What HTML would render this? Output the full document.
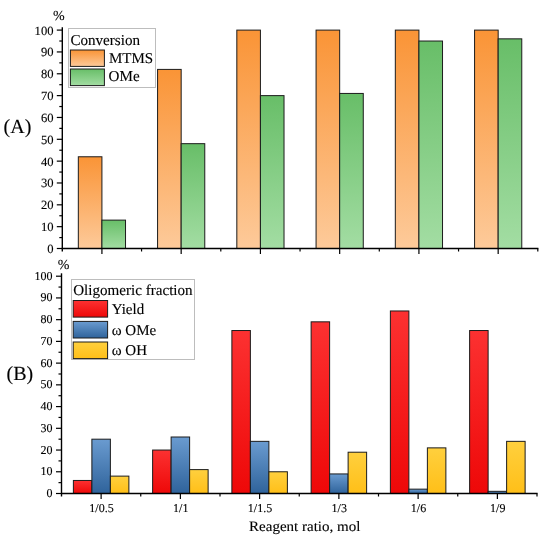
<!DOCTYPE html>
<html><head><meta charset="utf-8"><title>Chart</title>
<style>
html,body{margin:0;padding:0;background:#fff;}
body{width:550px;height:541px;overflow:hidden;}
svg{display:block;font-family:"Liberation Serif","Times New Roman",serif;fill:#000;}
text{stroke:#000;stroke-width:0.12px;text-rendering:geometricPrecision;}
</style></head><body>
<svg width="550" height="541" viewBox="0 0 550 541">
<defs>
<linearGradient id="gO" x1="0" y1="0" x2="0" y2="1"><stop offset="0" stop-color="#FA9436"/><stop offset="1" stop-color="#FDCA9A"/></linearGradient>
<linearGradient id="gG" x1="0" y1="0" x2="0" y2="1"><stop offset="0" stop-color="#68BE68"/><stop offset="1" stop-color="#A3DDA3"/></linearGradient>
<linearGradient id="gR" x1="0" y1="0" x2="0" y2="1"><stop offset="0" stop-color="#FC3131"/><stop offset="1" stop-color="#EE0808"/></linearGradient>
<linearGradient id="gB" x1="0" y1="0" x2="0" y2="1"><stop offset="0" stop-color="#6A9BD0"/><stop offset="1" stop-color="#2F639B"/></linearGradient>
<linearGradient id="gY" x1="0" y1="0" x2="0" y2="1"><stop offset="0" stop-color="#FFD03E"/><stop offset="1" stop-color="#FFBF18"/></linearGradient>
</defs>
<rect width="550" height="541" fill="#fff"/>
<g id="top">
<rect x="78.32" y="156.77" width="23.60" height="91.73" fill="url(#gO)" stroke="#1c1c1c" stroke-width="1"/>
<rect x="101.92" y="220.11" width="23.60" height="28.39" fill="url(#gG)" stroke="#1c1c1c" stroke-width="1"/>
<rect x="157.57" y="69.41" width="23.60" height="179.09" fill="url(#gO)" stroke="#1c1c1c" stroke-width="1"/>
<rect x="181.17" y="143.67" width="23.60" height="104.83" fill="url(#gG)" stroke="#1c1c1c" stroke-width="1"/>
<rect x="236.82" y="30.10" width="23.60" height="218.40" fill="url(#gO)" stroke="#1c1c1c" stroke-width="1"/>
<rect x="260.42" y="95.62" width="23.60" height="152.88" fill="url(#gG)" stroke="#1c1c1c" stroke-width="1"/>
<rect x="316.07" y="30.10" width="23.60" height="218.40" fill="url(#gO)" stroke="#1c1c1c" stroke-width="1"/>
<rect x="339.67" y="93.44" width="23.60" height="155.06" fill="url(#gG)" stroke="#1c1c1c" stroke-width="1"/>
<rect x="395.32" y="30.10" width="23.60" height="218.40" fill="url(#gO)" stroke="#1c1c1c" stroke-width="1"/>
<rect x="418.92" y="41.02" width="23.60" height="207.48" fill="url(#gG)" stroke="#1c1c1c" stroke-width="1"/>
<rect x="474.57" y="30.10" width="23.60" height="218.40" fill="url(#gO)" stroke="#1c1c1c" stroke-width="1"/>
<rect x="498.17" y="38.84" width="23.60" height="209.66" fill="url(#gG)" stroke="#1c1c1c" stroke-width="1"/>
<line x1="62.30" y1="27.20" x2="62.30" y2="251.50" stroke="#000" stroke-width="1.4"/>
<line x1="61.70" y1="248.50" x2="538.40" y2="248.50" stroke="#000" stroke-width="1.4"/>
<line x1="56.80" y1="248.50" x2="62.30" y2="248.50" stroke="#000" stroke-width="1.2"/>
<text x="53.50" y="252.90" text-anchor="end" font-size="12.6">0</text>
<line x1="59.30" y1="237.58" x2="62.30" y2="237.58" stroke="#000" stroke-width="1.2"/>
<line x1="56.80" y1="226.66" x2="62.30" y2="226.66" stroke="#000" stroke-width="1.2"/>
<text x="53.50" y="231.06" text-anchor="end" font-size="12.6">10</text>
<line x1="59.30" y1="215.74" x2="62.30" y2="215.74" stroke="#000" stroke-width="1.2"/>
<line x1="56.80" y1="204.82" x2="62.30" y2="204.82" stroke="#000" stroke-width="1.2"/>
<text x="53.50" y="209.22" text-anchor="end" font-size="12.6">20</text>
<line x1="59.30" y1="193.90" x2="62.30" y2="193.90" stroke="#000" stroke-width="1.2"/>
<line x1="56.80" y1="182.98" x2="62.30" y2="182.98" stroke="#000" stroke-width="1.2"/>
<text x="53.50" y="187.38" text-anchor="end" font-size="12.6">30</text>
<line x1="59.30" y1="172.06" x2="62.30" y2="172.06" stroke="#000" stroke-width="1.2"/>
<line x1="56.80" y1="161.14" x2="62.30" y2="161.14" stroke="#000" stroke-width="1.2"/>
<text x="53.50" y="165.54" text-anchor="end" font-size="12.6">40</text>
<line x1="59.30" y1="150.22" x2="62.30" y2="150.22" stroke="#000" stroke-width="1.2"/>
<line x1="56.80" y1="139.30" x2="62.30" y2="139.30" stroke="#000" stroke-width="1.2"/>
<text x="53.50" y="143.70" text-anchor="end" font-size="12.6">50</text>
<line x1="59.30" y1="128.38" x2="62.30" y2="128.38" stroke="#000" stroke-width="1.2"/>
<line x1="56.80" y1="117.46" x2="62.30" y2="117.46" stroke="#000" stroke-width="1.2"/>
<text x="53.50" y="121.86" text-anchor="end" font-size="12.6">60</text>
<line x1="59.30" y1="106.54" x2="62.30" y2="106.54" stroke="#000" stroke-width="1.2"/>
<line x1="56.80" y1="95.62" x2="62.30" y2="95.62" stroke="#000" stroke-width="1.2"/>
<text x="53.50" y="100.02" text-anchor="end" font-size="12.6">70</text>
<line x1="59.30" y1="84.70" x2="62.30" y2="84.70" stroke="#000" stroke-width="1.2"/>
<line x1="56.80" y1="73.78" x2="62.30" y2="73.78" stroke="#000" stroke-width="1.2"/>
<text x="53.50" y="78.18" text-anchor="end" font-size="12.6">80</text>
<line x1="59.30" y1="62.86" x2="62.30" y2="62.86" stroke="#000" stroke-width="1.2"/>
<line x1="56.80" y1="51.94" x2="62.30" y2="51.94" stroke="#000" stroke-width="1.2"/>
<text x="53.50" y="56.34" text-anchor="end" font-size="12.6">90</text>
<line x1="59.30" y1="41.02" x2="62.30" y2="41.02" stroke="#000" stroke-width="1.2"/>
<line x1="56.80" y1="30.10" x2="62.30" y2="30.10" stroke="#000" stroke-width="1.2"/>
<text x="53.50" y="34.50" text-anchor="end" font-size="12.6">100</text>
<line x1="101.92" y1="248.50" x2="101.92" y2="254.00" stroke="#000" stroke-width="1.2"/>
<line x1="141.55" y1="248.50" x2="141.55" y2="251.50" stroke="#000" stroke-width="1.2"/>
<line x1="181.17" y1="248.50" x2="181.17" y2="254.00" stroke="#000" stroke-width="1.2"/>
<line x1="220.80" y1="248.50" x2="220.80" y2="251.50" stroke="#000" stroke-width="1.2"/>
<line x1="260.42" y1="248.50" x2="260.42" y2="254.00" stroke="#000" stroke-width="1.2"/>
<line x1="300.05" y1="248.50" x2="300.05" y2="251.50" stroke="#000" stroke-width="1.2"/>
<line x1="339.67" y1="248.50" x2="339.67" y2="254.00" stroke="#000" stroke-width="1.2"/>
<line x1="379.30" y1="248.50" x2="379.30" y2="251.50" stroke="#000" stroke-width="1.2"/>
<line x1="418.92" y1="248.50" x2="418.92" y2="254.00" stroke="#000" stroke-width="1.2"/>
<line x1="458.55" y1="248.50" x2="458.55" y2="251.50" stroke="#000" stroke-width="1.2"/>
<line x1="498.17" y1="248.50" x2="498.17" y2="254.00" stroke="#000" stroke-width="1.2"/>
<line x1="537.80" y1="248.50" x2="537.80" y2="251.50" stroke="#000" stroke-width="1.2"/>
</g>
<g id="bottom">
<rect x="73.38" y="480.46" width="18.50" height="13.04" fill="url(#gR)" stroke="#1c1c1c" stroke-width="1"/>
<rect x="91.88" y="439.18" width="18.50" height="54.32" fill="url(#gB)" stroke="#1c1c1c" stroke-width="1"/>
<rect x="110.38" y="476.12" width="18.50" height="17.38" fill="url(#gY)" stroke="#1c1c1c" stroke-width="1"/>
<rect x="152.62" y="450.04" width="18.50" height="43.46" fill="url(#gR)" stroke="#1c1c1c" stroke-width="1"/>
<rect x="171.12" y="437.00" width="18.50" height="56.50" fill="url(#gB)" stroke="#1c1c1c" stroke-width="1"/>
<rect x="189.62" y="469.60" width="18.50" height="23.90" fill="url(#gY)" stroke="#1c1c1c" stroke-width="1"/>
<rect x="231.88" y="330.52" width="18.50" height="162.98" fill="url(#gR)" stroke="#1c1c1c" stroke-width="1"/>
<rect x="250.38" y="441.35" width="18.50" height="52.15" fill="url(#gB)" stroke="#1c1c1c" stroke-width="1"/>
<rect x="268.88" y="471.77" width="18.50" height="21.73" fill="url(#gY)" stroke="#1c1c1c" stroke-width="1"/>
<rect x="311.12" y="321.83" width="18.50" height="171.67" fill="url(#gR)" stroke="#1c1c1c" stroke-width="1"/>
<rect x="329.62" y="473.94" width="18.50" height="19.56" fill="url(#gB)" stroke="#1c1c1c" stroke-width="1"/>
<rect x="348.12" y="452.21" width="18.50" height="41.29" fill="url(#gY)" stroke="#1c1c1c" stroke-width="1"/>
<rect x="390.38" y="310.97" width="18.50" height="182.53" fill="url(#gR)" stroke="#1c1c1c" stroke-width="1"/>
<rect x="408.88" y="489.15" width="18.50" height="4.35" fill="url(#gB)" stroke="#1c1c1c" stroke-width="1"/>
<rect x="427.38" y="447.87" width="18.50" height="45.63" fill="url(#gY)" stroke="#1c1c1c" stroke-width="1"/>
<rect x="469.62" y="330.52" width="18.50" height="162.98" fill="url(#gR)" stroke="#1c1c1c" stroke-width="1"/>
<rect x="488.12" y="491.33" width="18.50" height="2.17" fill="url(#gB)" stroke="#1c1c1c" stroke-width="1"/>
<rect x="506.62" y="441.35" width="18.50" height="52.15" fill="url(#gY)" stroke="#1c1c1c" stroke-width="1"/>
<line x1="61.50" y1="273.30" x2="61.50" y2="496.50" stroke="#000" stroke-width="1.4"/>
<line x1="60.90" y1="493.50" x2="537.60" y2="493.50" stroke="#000" stroke-width="1.4"/>
<line x1="56.00" y1="493.50" x2="61.50" y2="493.50" stroke="#000" stroke-width="1.2"/>
<text x="52.50" y="497.00" text-anchor="end" font-size="12">0</text>
<line x1="58.50" y1="482.63" x2="61.50" y2="482.63" stroke="#000" stroke-width="1.2"/>
<line x1="56.00" y1="471.77" x2="61.50" y2="471.77" stroke="#000" stroke-width="1.2"/>
<text x="52.50" y="475.27" text-anchor="end" font-size="12">10</text>
<line x1="58.50" y1="460.90" x2="61.50" y2="460.90" stroke="#000" stroke-width="1.2"/>
<line x1="56.00" y1="450.04" x2="61.50" y2="450.04" stroke="#000" stroke-width="1.2"/>
<text x="52.50" y="453.54" text-anchor="end" font-size="12">20</text>
<line x1="58.50" y1="439.18" x2="61.50" y2="439.18" stroke="#000" stroke-width="1.2"/>
<line x1="56.00" y1="428.31" x2="61.50" y2="428.31" stroke="#000" stroke-width="1.2"/>
<text x="52.50" y="431.81" text-anchor="end" font-size="12">30</text>
<line x1="58.50" y1="417.44" x2="61.50" y2="417.44" stroke="#000" stroke-width="1.2"/>
<line x1="56.00" y1="406.58" x2="61.50" y2="406.58" stroke="#000" stroke-width="1.2"/>
<text x="52.50" y="410.08" text-anchor="end" font-size="12">40</text>
<line x1="58.50" y1="395.72" x2="61.50" y2="395.72" stroke="#000" stroke-width="1.2"/>
<line x1="56.00" y1="384.85" x2="61.50" y2="384.85" stroke="#000" stroke-width="1.2"/>
<text x="52.50" y="388.35" text-anchor="end" font-size="12">50</text>
<line x1="58.50" y1="373.99" x2="61.50" y2="373.99" stroke="#000" stroke-width="1.2"/>
<line x1="56.00" y1="363.12" x2="61.50" y2="363.12" stroke="#000" stroke-width="1.2"/>
<text x="52.50" y="366.62" text-anchor="end" font-size="12">60</text>
<line x1="58.50" y1="352.25" x2="61.50" y2="352.25" stroke="#000" stroke-width="1.2"/>
<line x1="56.00" y1="341.39" x2="61.50" y2="341.39" stroke="#000" stroke-width="1.2"/>
<text x="52.50" y="344.89" text-anchor="end" font-size="12">70</text>
<line x1="58.50" y1="330.52" x2="61.50" y2="330.52" stroke="#000" stroke-width="1.2"/>
<line x1="56.00" y1="319.66" x2="61.50" y2="319.66" stroke="#000" stroke-width="1.2"/>
<text x="52.50" y="323.16" text-anchor="end" font-size="12">80</text>
<line x1="58.50" y1="308.79" x2="61.50" y2="308.79" stroke="#000" stroke-width="1.2"/>
<line x1="56.00" y1="297.93" x2="61.50" y2="297.93" stroke="#000" stroke-width="1.2"/>
<text x="52.50" y="301.43" text-anchor="end" font-size="12">90</text>
<line x1="58.50" y1="287.06" x2="61.50" y2="287.06" stroke="#000" stroke-width="1.2"/>
<line x1="56.00" y1="276.20" x2="61.50" y2="276.20" stroke="#000" stroke-width="1.2"/>
<text x="52.50" y="279.70" text-anchor="end" font-size="12">100</text>
<line x1="101.12" y1="493.50" x2="101.12" y2="499.00" stroke="#000" stroke-width="1.2"/>
<line x1="140.75" y1="493.50" x2="140.75" y2="496.50" stroke="#000" stroke-width="1.2"/>
<line x1="180.38" y1="493.50" x2="180.38" y2="499.00" stroke="#000" stroke-width="1.2"/>
<line x1="220.00" y1="493.50" x2="220.00" y2="496.50" stroke="#000" stroke-width="1.2"/>
<line x1="259.62" y1="493.50" x2="259.62" y2="499.00" stroke="#000" stroke-width="1.2"/>
<line x1="299.25" y1="493.50" x2="299.25" y2="496.50" stroke="#000" stroke-width="1.2"/>
<line x1="338.88" y1="493.50" x2="338.88" y2="499.00" stroke="#000" stroke-width="1.2"/>
<line x1="378.50" y1="493.50" x2="378.50" y2="496.50" stroke="#000" stroke-width="1.2"/>
<line x1="418.12" y1="493.50" x2="418.12" y2="499.00" stroke="#000" stroke-width="1.2"/>
<line x1="457.75" y1="493.50" x2="457.75" y2="496.50" stroke="#000" stroke-width="1.2"/>
<line x1="497.38" y1="493.50" x2="497.38" y2="499.00" stroke="#000" stroke-width="1.2"/>
<line x1="537.00" y1="493.50" x2="537.00" y2="496.50" stroke="#000" stroke-width="1.2"/>
</g>
<text x="101.53" y="512.4" text-anchor="middle" font-size="12">1/0.5</text>
<text x="180.78" y="512.4" text-anchor="middle" font-size="12">1/1</text>
<text x="260.02" y="512.4" text-anchor="middle" font-size="12">1/1.5</text>
<text x="339.27" y="512.4" text-anchor="middle" font-size="12">1/3</text>
<text x="418.52" y="512.4" text-anchor="middle" font-size="12">1/6</text>
<text x="497.77" y="512.4" text-anchor="middle" font-size="12">1/9</text>
<text x="52.9" y="19.8" font-size="14">%</text>
<text x="57.7" y="269.2" font-size="14">%</text>
<text x="3.6" y="133.3" font-size="20">(A)</text>
<text x="6.5" y="380" font-size="20">(B)</text>
<text transform="translate(304.7 530.8) scale(1.05 1)" x="0" y="0" text-anchor="middle" font-size="14.3">Reagent ratio, mol</text>
<!-- legend A -->
<rect x="68.5" y="28.5" width="87" height="59" fill="#fff" stroke="#bdbdbd" stroke-width="1"/>
<text x="70.4" y="44.7" font-size="15.1">Conversion</text>
<rect x="70.4" y="50" width="34" height="16.4" fill="url(#gO)" stroke="#1c1c1c" stroke-width="1"/>
<text x="109" y="63" font-size="15">MTMS</text>
<rect x="70.4" y="69" width="34" height="16.6" fill="url(#gG)" stroke="#1c1c1c" stroke-width="1"/>
<text x="108.6" y="81.3" font-size="15.1">OMe</text>
<!-- legend B -->
<rect x="71.5" y="279.5" width="123" height="80" fill="#fff" stroke="#bdbdbd" stroke-width="1"/>
<text x="73.2" y="295" font-size="15.1">Oligomeric fraction</text>
<rect x="73.2" y="300.5" width="34.4" height="16.6" fill="url(#gR)" stroke="#1c1c1c" stroke-width="1"/>
<text x="111.7" y="314.1" font-size="15">Yield</text>
<rect x="73.2" y="321.4" width="34.4" height="16.6" fill="url(#gB)" stroke="#1c1c1c" stroke-width="1"/>
<text x="111.7" y="334.5" font-size="15">ω OMe</text>
<rect x="73.2" y="342" width="34.4" height="16.6" fill="url(#gY)" stroke="#1c1c1c" stroke-width="1"/>
<text x="111.7" y="354.6" font-size="15">ω OH</text>
</svg>
</body></html>
